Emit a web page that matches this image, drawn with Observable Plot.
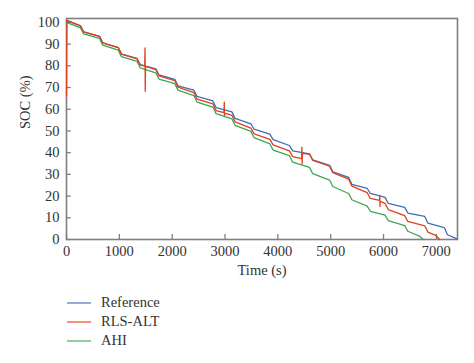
<!DOCTYPE html>
<html>
<head>
<meta charset="utf-8">
<script src="https://cdn.jsdelivr.net/npm/d3@7"></script>
<script src="https://cdn.jsdelivr.net/npm/@observablehq/plot@0.6"></script>
<style>
  html, body { margin: 0; padding: 0; background: #fff; }
  #chart { width: 474px; }
  #chart svg text { font-family: "Liberation Serif", "DejaVu Serif", serif !important; }
  .legend { font-family: "Liberation Serif", "DejaVu Serif", serif; font-size: 14.5px; color: #333; padding-top: 3px; }
  .legend .row { height: 19px; display: flex; align-items: center; }
  .legend svg { margin-left: 67px; margin-right: 10px; }
</style>
</head>
<body>
<div id="chart"></div>
<script>
// Time (s) and SOC (%)
const refT = [0, 265, 325, 625, 685, 980, 1040, 1335, 1395, 1690, 1750, 2050, 2110, 2410, 2470, 2770, 2830, 3130, 3190, 3490, 3550, 3850, 3910, 4220, 4280, 4600, 4660, 4980, 5040, 5340, 5400, 5690, 5750, 6030, 6090, 6400, 6460, 6780, 6840, 7150, 7210, 7390];
const refSoc = [100.9, 98.4, 95.6, 93.6, 90.6, 88.4, 85.4, 83.4, 80.6, 78.6, 75.8, 73.8, 70.8, 68.8, 65.9, 63.8, 60.8, 58.8, 55.8, 53.3, 50.8, 48.5, 46.0, 43.3, 40.8, 39.4, 36.7, 34.2, 31.2, 28.6, 25.4, 23.6, 21.2, 19.4, 16.6, 14.8, 12.2, 10.6, 7.5, 5.5, 2.2, 0.3];

const rlsT = [0, 8, 265, 325, 625, 685, 980, 1040, 1335, 1395, 1480, 1487, 1490, 1495, 1690, 1750, 2050, 2110, 2410, 2470, 2770, 2830, 2980, 2986, 2990, 2995, 3130, 3190, 3490, 3550, 3850, 3910, 4220, 4280, 4450, 4455, 4460, 4465, 4600, 4660, 4980, 5040, 5340, 5400, 5690, 5750, 5925, 5929, 5933, 5937, 6030, 6090, 6400, 6460, 6780, 6840, 7000, 7060];
const rlsSoc = [66, 100.9, 98.4, 95.6, 93.6, 90.6, 88.4, 85.4, 83.2, 80.4, 79.9, 88.3, 68.3, 79.7, 78.2, 75.4, 73.2, 70.2, 67.7, 64.7, 62.5, 59.4, 58.4, 63.3, 57.1, 58.2, 57.2, 54.2, 51.3, 48.7, 46.1, 43.6, 40.8, 38.2, 37.3, 42.5, 34.9, 39.7, 39.2, 36.5, 33.8, 30.8, 27.8, 24.6, 21.6, 18.9, 18.0, 20.3, 15.2, 17.6, 16.6, 13.8, 11.0, 8.3, 6.3, 3.4, 1.8, 0];

const ahiT = [0, 265, 325, 625, 685, 980, 1040, 1335, 1395, 1690, 1750, 2050, 2110, 2410, 2470, 2770, 2830, 3130, 3190, 3490, 3550, 3850, 3910, 4220, 4280, 4600, 4660, 4980, 5040, 5340, 5400, 5690, 5750, 6030, 6090, 6400, 6460, 6690, 6750];
const ahiSoc = [100.0, 97.5, 94.7, 92.6, 89.5, 87.2, 84.2, 82.0, 79.1, 76.8, 73.9, 71.8, 68.8, 66.3, 63.3, 61.0, 58.0, 55.6, 52.6, 49.8, 46.9, 44.0, 41.2, 38.6, 35.6, 33.2, 30.3, 27.4, 24.4, 21.2, 18.3, 15.4, 13.0, 11.2, 8.7, 6.4, 3.8, 1.4, 0];

const seriesNames = ["Reference", "RLS-ALT", "AHI"];
const seriesColors = ["#3f6db3", "#e0401c", "#3ea553"];
const xTicks = [0, 1000, 2000, 3000, 4000, 5000, 6000, 7000];
const yTicks = [0, 10, 20, 30, 40, 50, 60, 70, 80, 90, 100];

const toRows = (ts, vs) => ts.map((t, i) => ({t, soc: vs[i]}));
const refRows = toRows(refT, refSoc);
const rlsRows = toRows(rlsT, rlsSoc);
const ahiRows = toRows(ahiT, ahiSoc);

const axisGray = "#7f7f7f";

const chart = Plot.plot({
  width: 474,
  height: 290,
  marginLeft: 66,
  marginRight: 17,
  marginTop: 18,
  marginBottom: 51,
  style: {fontFamily: "'Liberation Serif', serif", fontSize: "14.5px", color: "#333", background: "#fff"},
  x: {domain: [0, 7400]},
  y: {domain: [0, 101.8]},
  marks: [
    Plot.axisX(xTicks, {tickSize: 0, tickPadding: 6, label: null, tickFormat: d => String(d)}),
    Plot.axisY(yTicks, {tickSize: 0, tickPadding: 7, label: null, tickFormat: d => String(d)}),
    Plot.ruleX(xTicks, {x: d => d, y1: 0, y2: 2.3, stroke: axisGray, strokeWidth: 1.3}),
    Plot.ruleY(yTicks, {y: d => d, x1: 0, x2: 90, stroke: axisGray, strokeWidth: 1.3}),
    Plot.frame({stroke: axisGray, strokeWidth: 1.6}),
    Plot.line(refRows, {x: "t", y: "soc", stroke: seriesColors[0], strokeWidth: 1.3}),
    Plot.line(ahiRows, {x: "t", y: "soc", stroke: seriesColors[2], strokeWidth: 1.3}),
    Plot.line(rlsRows, {x: "t", y: "soc", stroke: seriesColors[1], strokeWidth: 1.3}),
    Plot.text(["Time (s)"], {frameAnchor: "bottom", dy: 31, lineAnchor: "middle", fill: "#333"}),
    Plot.text(["SOC (%)"], {frameAnchor: "left", dx: -41, rotate: -90, lineAnchor: "middle", fill: "#333"})
  ]
});
document.getElementById("chart").appendChild(chart);

const legend = document.createElement("div");
legend.className = "legend";
seriesNames.forEach((name, i) => {
  const row = document.createElement("div");
  row.className = "row";
  row.innerHTML = `<svg width="24" height="4"><line x1="0" y1="2" x2="24" y2="2" stroke="${seriesColors[i]}" stroke-opacity="0.75" stroke-width="1.5"/></svg><span>${name}</span>`;
  legend.appendChild(row);
});
document.getElementById("chart").appendChild(legend);
</script>
</body>
</html>
